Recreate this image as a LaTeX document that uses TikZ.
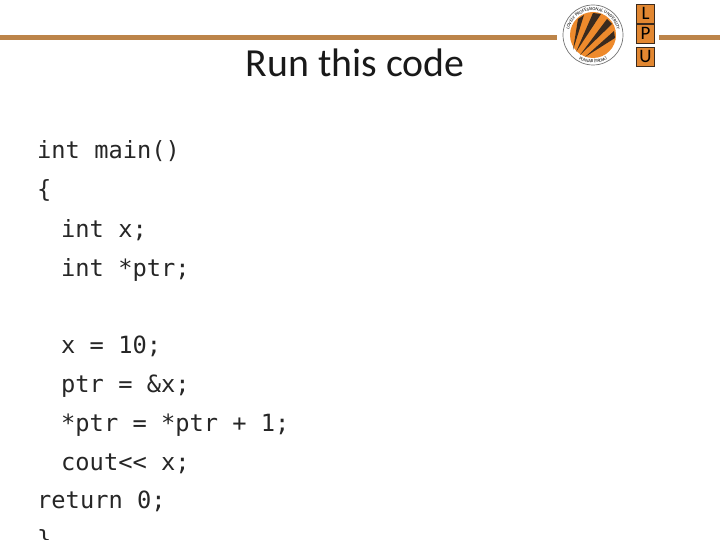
\documentclass[tikz,border=0pt]{standalone}
\usepackage{fontspec}
\setmainfont{Carlito}
\setmonofont{DejaVu Sans Mono}
\usetikzlibrary{positioning,decorations.text}
\definecolor{lpuband}{HTML}{BC8449}
\definecolor{lpuorange}{HTML}{EE8A2C}
\definecolor{lpuray}{HTML}{3A2A1E}

\begin{document}
\begin{tikzpicture}[x=1pt,y=-1pt]
        % Setup the styles
        \tikzset{code line/.style={font=\ttfamily\fontsize{23.7}{28}\selectfont,
                                   anchor=base west,
                                   inner sep=0pt,
                                   text=black!85},
                 letter box/.style={draw=lpuray,
                                    line width=0.8pt,
                                    fill=lpuorange!75!brown,
                                    minimum width=18pt,
                                    minimum height=19pt,
                                    inner sep=0pt,
                                    font=\fontsize{19}{20}\selectfont},
                 band/.style={line width=5pt,draw=lpuband},
                 ring text/.style={decoration={text along path,
                                   text align=center,
                                   text={|\fontsize{4.6}{6}\selectfont|#1}},
                                   decorate}}
        \useasboundingbox[fill=white] (0,0) rectangle (720,540);

        % Draw the title
        \node[font=\fontsize{39.8}{44}\selectfont,text=black!90] at (355,63) (title) {Run this code};

        % Draw the code
        \begin{scope}
        \clip (0,0) rectangle (720,540);
        \node[code line] at (37,159)  (line a) {int main()};
        \node[code line] at (37,198)  (line b) {\{};
        \node[code line] at (61,237)  (line c) {int x;};
        \node[code line] at (61,276)  (line d) {int *ptr;};
        \node[code line] at (61,353)  (line e) {x = 10;};
        \node[code line] at (61,392)  (line f) {ptr = \&x;};
        \node[code line] at (61,431)  (line g) {*ptr = *ptr + 1;};
        \node[code line] at (61,470)  (line h) {cout<< x;};
        \node[code line] at (37,508)  (line i) {return 0;};
        \node[code line] at (37,547)  (line j) {\}};
        \end{scope}

        % Draw the logo
        \node[circle,draw=black!55,line width=0.7pt,minimum size=60pt,inner sep=0pt] at (593,35) (seal) {};
        \node[circle,fill=lpuorange,minimum size=46pt,inner sep=0pt] at (593,35) (sun) {};
        \fill[lpuray] (573,50) -- (578,19) -- (584,15) -- cycle;
        \fill[lpuray] (576,52) -- (593,13) -- (601,14) -- cycle;
        \fill[lpuray] (580,55) -- (607,19) -- (612,24) -- cycle;
        \fill[lpuray] (585,57) -- (614,31) -- (615,38) -- cycle;
        \begin{scope}[shift={(seal.center)},x=1pt,y=1pt]
        \path[ring text={LOVELY PROFESSIONAL UNIVERSITY}] (200:24.5) arc[start angle=200,end angle=-20,radius=24.5pt];
        \path[ring text={PUNJAB (INDIA)}] (225:28) arc[start angle=225,end angle=315,radius=28pt];
        \end{scope}

        % Draw the letters
        \node[letter box] at (645.5,13.5) (letter l) {L};
        \node[letter box] at (645.5,33.5) (letter p) {P};
        \node[letter box] at (645.5,56.5) (letter u) {U};

        % Draw the band on both sides of the logo
        \coordinate (band a) at (0,37.5);
        \coordinate (band b) at (557,37.5);
        \coordinate (band c) at (659,37.5);
        \coordinate (band d) at (720,37.5);
        \draw[band] (band a) -- (band b);
        \draw[band] (band c) -- (band d);
\end{tikzpicture}
\end{document}
